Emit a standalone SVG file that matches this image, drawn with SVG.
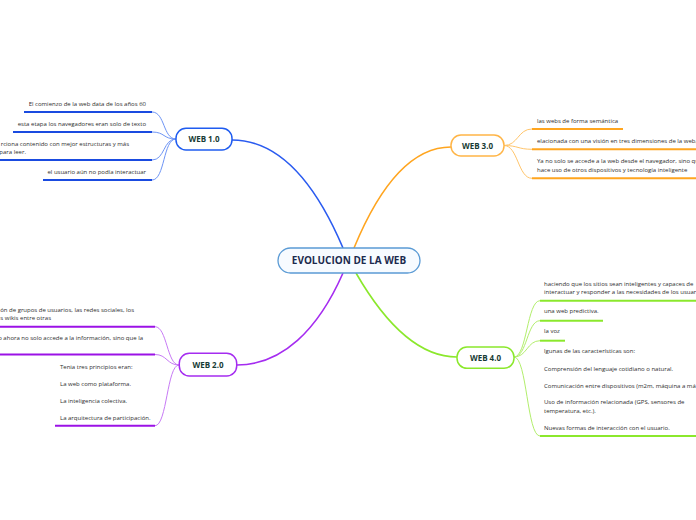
<svg xmlns="http://www.w3.org/2000/svg" width="696" height="520" viewBox="0 0 696 520">
<style>
.t{font-family:"Open Sans","Liberation Sans",sans-serif;font-size:6px;fill:#2e2e2e}
.n{font-family:"Open Sans","Liberation Sans",sans-serif;font-size:8px;font-weight:bold;fill:#183b35;text-anchor:middle}
.c{font-family:"Open Sans","Liberation Sans",sans-serif;font-size:10px;font-weight:bold;fill:#1b2a4e;text-anchor:middle}
.e{text-anchor:end}
path{fill:none}
.bu{stroke:#1a4be0;stroke-width:2}
.bb{stroke:#6d94f5;stroke-width:1}
.ou{stroke:#ffa51f;stroke-width:2}
.ob{stroke:#ffc56b;stroke-width:1}
.gu{stroke:#8be82c;stroke-width:2}
.gb{stroke:#b2ee6c;stroke-width:1}
.pu{stroke:#9b12e6;stroke-width:2}
.pb{stroke:#c77af5;stroke-width:1}
</style>
<rect width="696" height="520" fill="#ffffff"/>
<g id="connectors">
<path d="M343 248 C312 175 275 140 232 140" stroke="#2a5bf0" stroke-width="1.6"/>
<path d="M354 248 C380 185 412 147 451 147" stroke="#ffa51f" stroke-width="1.6"/>
<path d="M343 273 C318 330 282 365 237 365" stroke="#a52cf0" stroke-width="1.6"/>
<path d="M356 273 C386 325 420 357 457 357" stroke="#8be82c" stroke-width="1.6"/>
<path class="bu" d="M24 112 H152"/><path class="bb" d="M152 112 C165 112 163 139 176 139"/>
<path class="bu" d="M13 132 H152"/><path class="bb" d="M152 132 C165 132 163 139 176 139"/>
<path class="bu" d="M0 160 H152"/><path class="bb" d="M152 160 C165 160 163 139 176 139"/>
<path class="bu" d="M43 180 H152"/><path class="bb" d="M152 180 C165 180 163 139 176 139"/>
<path class="ob" d="M504 145.5 C518 145.5 518 129 532 129"/><path class="ou" d="M532 129 H623"/>
<path class="ob" d="M504 145.5 C518 145.5 518 149.3 532 149.3"/><path class="ou" d="M532 149.3 H696"/>
<path class="ob" d="M504 145.5 C518 145.5 518 178.3 532 178.3"/><path class="ou" d="M532 178.3 H696"/>
<path class="gb" d="M514 357 C527 357 527 300.7 540 300.7"/><path class="gu" d="M540 300.7 H696"/>
<path class="gb" d="M514 357 C527 357 527 320.7 540 320.7"/><path class="gu" d="M540 320.7 H603"/>
<path class="gb" d="M514 357 C527 357 527 340.7 540 340.7"/><path class="gu" d="M540 340.7 H565"/>
<path class="gb" d="M514 357 C527 357 527 436 540 436"/><path class="gu" d="M540 436 H696"/>
<path class="pu" d="M0 326.7 H155"/><path class="pb" d="M155 326.7 C167 326.7 167 365 179 365"/>
<path class="pu" d="M0 354.5 H155"/><path class="pb" d="M155 354.5 C167 354.5 167 365 179 365"/>
<path class="pu" d="M55 425.7 H155"/><path class="pb" d="M155 425.7 C167 425.7 167 365 179 365"/>
</g>
<g id="center">
<rect x="278" y="248" width="142" height="25" rx="12.5" fill="#f7fbff" stroke="#5b9bd5" stroke-width="1.3"/>
<text class="c" x="349" y="264.4">EVOLUCION DE LA WEB</text>
</g>
<g id="web1">
<rect x="176" y="128.3" width="56" height="21.7" rx="10" fill="#ffffff" stroke="#1f5cf0" stroke-width="1.5"/>
<text class="n" x="204" y="142">WEB 1.0</text>
</g>
<g id="web1-items">
<text class="t e" x="146" y="106">El comienzo de la web data de los años 60</text>
<text class="t e" x="146" y="126">esta etapa los navegadores eran solo de texto</text>
<text class="t e" x="129" y="146">rciona contenido con mejor estructuras y más</text>
<text class="t e" x="26" y="154">para leer.</text>
<text class="t e" x="146" y="174">el usuario aún no podía interactuar</text>
</g>
<g id="web3">
<rect x="451" y="135" width="53" height="21" rx="10" fill="#ffffff" stroke="#ffb547" stroke-width="1.5"/>
<text class="n" x="477.5" y="148.7">WEB 3.0</text>
</g>
<g id="web3-items">
<text class="t" x="537" y="123">las webs de forma semántica</text>
<text class="t" x="537" y="143.3">elacionada con una visión en tres dimensiones de la web,</text>
<text class="t" x="537" y="163.3">Ya no solo se accede a la web desde el navegador, sino qu</text>
<text class="t" x="537" y="171.7">hace uso de otros dispositivos y tecnología inteligente</text>
</g>
<g id="web4">
<rect x="457" y="347" width="57" height="21.3" rx="10" fill="#ffffff" stroke="#8be82c" stroke-width="1.5"/>
<text class="n" x="485.5" y="360.7">WEB 4.0</text>
</g>
<g id="web4-items">
<text class="t" x="544" y="285.7">haciendo que los sitios sean inteligentes y capaces de</text>
<text class="t" x="544" y="294">interactuar y responder a las necesidades de los usuar</text>
<text class="t" x="544" y="313.3">una web predictiva.</text>
<text class="t" x="544" y="333.3">la voz</text>
<text class="t" x="544" y="353.3">lgunas de las características  son:</text>
<text class="t" x="544" y="371">Comprensión del lenguaje cotidiano o natural.</text>
<text class="t" x="544" y="387.7">Comunicación entre dispositivos (m2m, máquina a má</text>
<text class="t" x="544" y="404.3">Uso de información relacionada (GPS, sensores de</text>
<text class="t" x="544" y="413">temperatura, etc.).</text>
<text class="t" x="544" y="430">Nuevas formas de interacción con el usuario.</text>
</g>
<g id="web2">
<rect x="179.3" y="353.3" width="57.4" height="22.7" rx="10" fill="#ffffff" stroke="#a52cf0" stroke-width="1.5"/>
<text class="n" x="208" y="367.7">WEB 2.0</text>
</g>
<g id="web2-items">
<text class="t e" x="134" y="312.3">ón de grupos de usuarios, las redes sociales, los</text>
<text class="t e" x="51" y="319.5">s wikis entre otras</text>
<text class="t e" x="143" y="340.3">o ahora no solo accede a la información, sino que la</text>
<text class="t" x="60" y="369">Tenia tres principios eran:</text>
<text class="t" x="60" y="386">La web como plataforma.</text>
<text class="t" x="60" y="403.3">La inteligencia colectiva.</text>
<text class="t" x="60" y="420">La arquitectura de participación.</text>
</g>
</svg>
